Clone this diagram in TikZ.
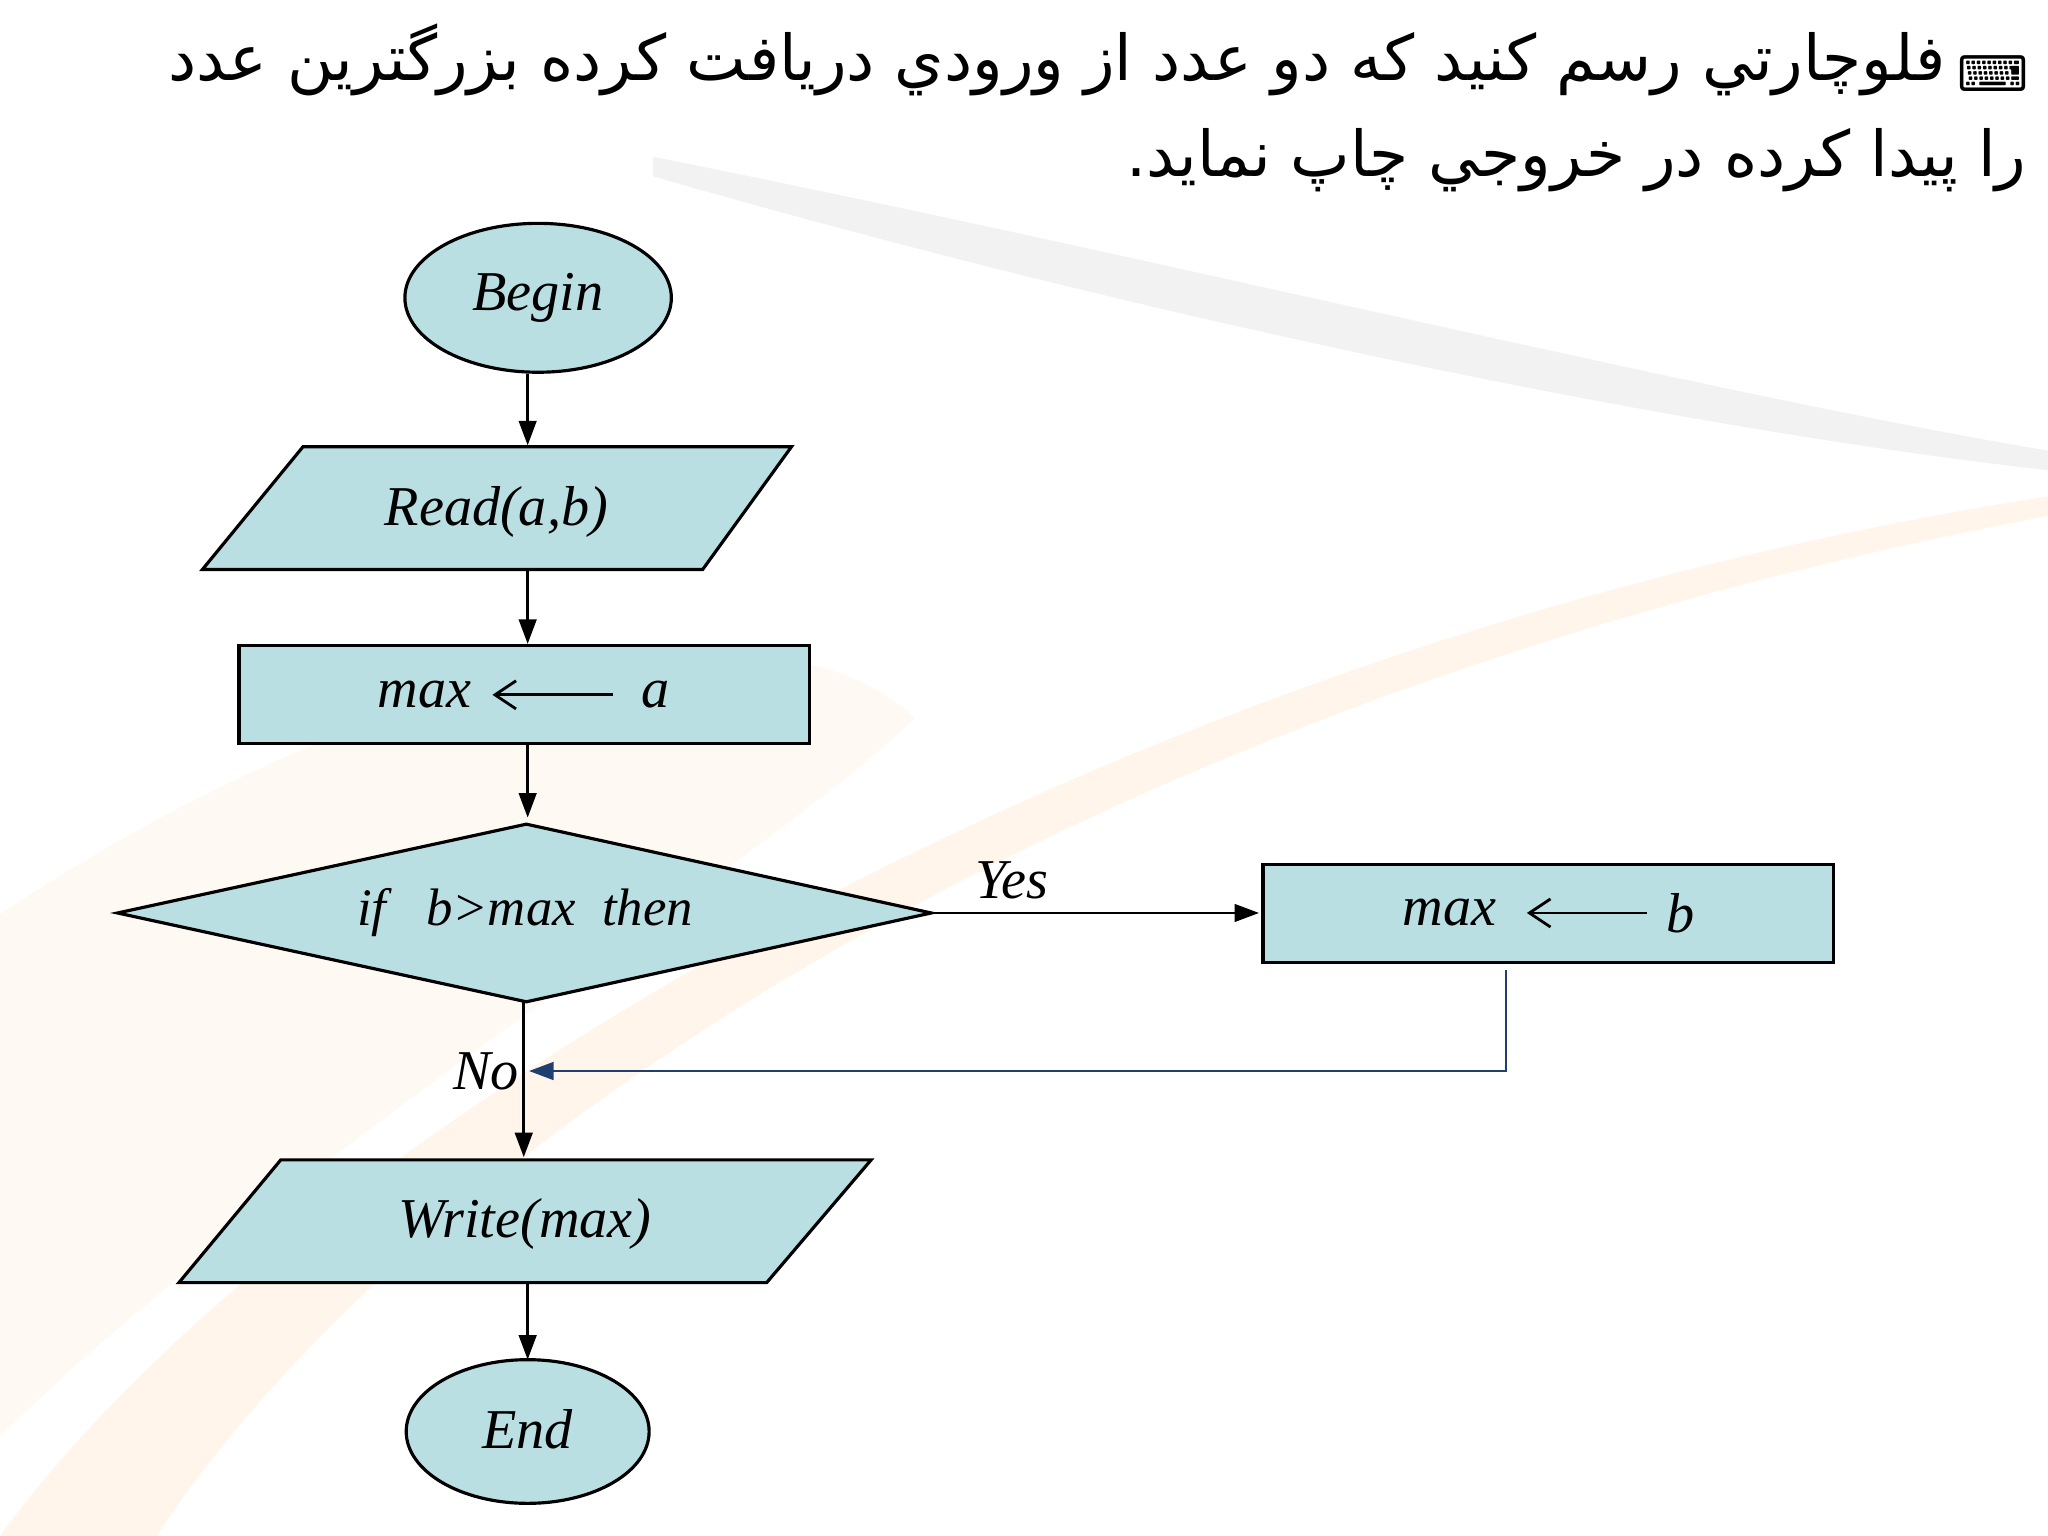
\documentclass[tikz,border=0pt]{standalone}
\usepackage{fontspec}
\setmainfont{Liberation Serif}
\newfontfamily\arabicfont[Script=Arabic]{DejaVu Sans}
\newfontfamily\symfont{DejaVu Sans}
\TeXXeTstate=1
\usetikzlibrary{arrows.meta,shapes.geometric}
\definecolor{boxfill}{HTML}{BADFE2}
\definecolor{linkblue}{HTML}{1F3F6E}
\tikzset{
  shapebox/.style={draw=black,fill=boxfill,line width=0.9pt},
  lbl/.style={font=\fontsize{16}{18}\selectfont\itshape,inner sep=0pt},
  conn/.style={line width=0.8pt,-{Triangle[length=7pt,width=5pt]}},
}
\begin{document}
\begin{tikzpicture}[x=0.01306cm,y=-0.01306cm]
\useasboundingbox (0,0) rectangle (1568,1176);
% faint background swooshes
\fill[gray!10] (500,120) .. controls (900,200) and (1300,300) .. (1568,345) -- (1568,360) .. controls (1300,330) and (900,250) .. (500,135) -- cycle;
\fill[orange!10,opacity=0.8] (0,1176) .. controls (200,900) and (800,500) .. (1568,380) -- (1568,395) .. controls (800,540) and (300,900) .. (120,1176) -- cycle;
\fill[orange!6,opacity=0.8] (0,700) .. controls (300,500) and (600,450) .. (700,550) .. controls (600,650) and (200,900) .. (0,1100) -- cycle;
% title
\node[anchor=base east,inner sep=0pt,font=\arabicfont\fontsize{18}{20}\selectfont] (t1) at (1490,62) {\beginR فلوچارتي رسم كنيد كه دو عدد از ورودي دريافت كرده بزرگترين عدد\endR};
\node[anchor=base east,inner sep=0pt,font=\arabicfont\fontsize{18}{20}\selectfont] (t2) at (1552,135) {\beginR را پيدا كرده در خروجي چاپ نمايد.\endR};
\node[inner sep=0pt,font=\symfont\fontsize{14}{16}\selectfont] (icon) at (1526,56) {⌨};
% shapes
\draw[shapebox] (412,228) ellipse [x radius=102,y radius=57];
\node[lbl] (begin) at (412,228) {Begin};
\draw[shapebox] (155,436) -- (232,342) -- (606,342) -- (538,436) -- cycle;
\node[lbl] (read) at (380,392) {Read(a,b)};
\draw[shapebox] (183,494) rectangle (620,569);
\node[lbl] (m1) at (325,532) {max};
\node[lbl] (a) at (502,532) {a};
\draw[shapebox] (90,699) -- (403,631) -- (713,699) -- (403,767) -- cycle;
\node[lbl,font=\fontsize{15}{17}\selectfont\itshape] (cond) at (402,699) {if\ \ \ b>max\ \ then};
\draw[shapebox] (967,662) rectangle (1404,737);
\node[lbl] (m2) at (1110,699) {max};
\node[lbl] (b) at (1287,699) {b};
\draw[shapebox] (137,982) -- (215,888) -- (667,888) -- (587,982) -- cycle;
\node[lbl] (write) at (402,937) {Write(max)};
\draw[shapebox] (404,1096) ellipse [x radius=93,y radius=55];
\node[lbl] (end) at (404,1094) {End};
\node[lbl] (yes) at (775,674) {Yes};
\node[lbl] (no) at (372,820) {No};
% inner arrows
\coordinate (a1s) at (469,532); \coordinate (a1e) at (377,532);
\draw[line width=0.8pt,-{Straight Barb[length=6pt,width=8pt]}] (a1s) -- (a1e);
\coordinate (a2s) at (1261,699); \coordinate (a2e) at (1169,699);
\draw[line width=0.8pt,-{Straight Barb[length=6pt,width=8pt]}] (a2s) -- (a2e);
% connectors
\coordinate (c1) at (404,286); \coordinate (c2) at (404,341);
\draw[conn] (c1) -- (c2);
\coordinate (c3) at (404,437); \coordinate (c4) at (404,493);
\draw[conn] (c3) -- (c4);
\coordinate (c5) at (404,570); \coordinate (c6) at (404,626);
\draw[conn] (c5) -- (c6);
\coordinate (c7) at (713,699); \coordinate (c8) at (964,699);
\draw[conn] (c7) -- (c8);
\coordinate (c9) at (401,767); \coordinate (c10) at (401,886);
\draw[conn] (c9) -- (c10);
\coordinate (c11) at (1153,743); \coordinate (c12) at (405,820);
\draw[line width=0.8pt,linkblue,-{Triangle[length=7pt,width=5pt]}] (c11) |- (c12);
\coordinate (c13) at (404,983); \coordinate (c14) at (404,1041);
\draw[conn] (c13) -- (c14);
\end{tikzpicture}
\end{document}
